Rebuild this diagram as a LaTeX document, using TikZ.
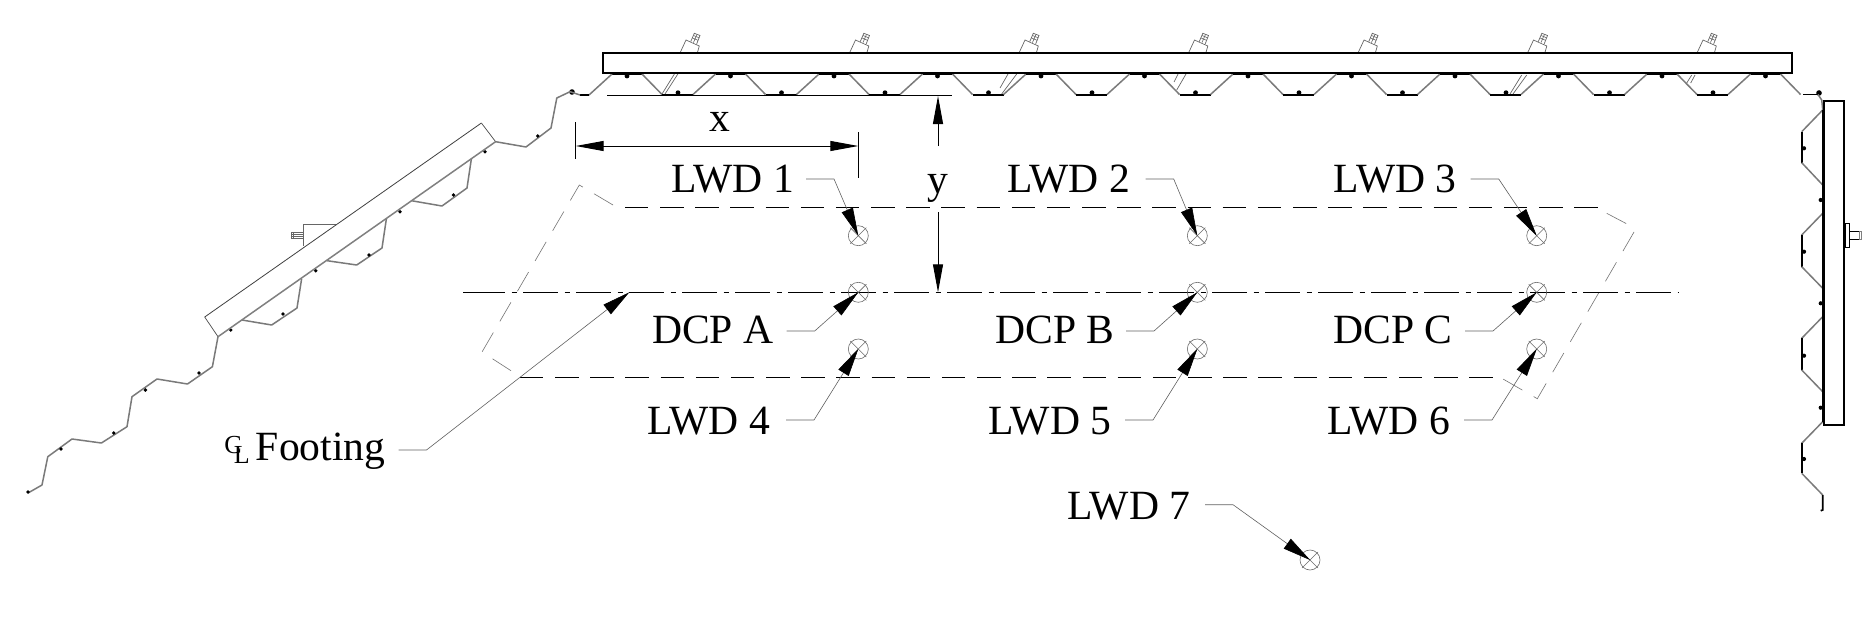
\documentclass[tikz,border=0pt]{standalone}
\usepackage{fontspec}
\setmainfont{Liberation Serif}
\usetikzlibrary{arrows.meta,calc}
\tikzset{
  lbl/.style={anchor=base west,inner sep=0pt,font=\fontsize{20.8}{24}\selectfont},
  smallcl/.style={anchor=base west,inner sep=0pt,font=\fontsize{13}{15}\selectfont},
  dimline/.style={line width=0.5pt,black},
  hood/.style={draw=black!60,line width=0.35pt,fill=white},
  sheet/.style={draw=black!52,line width=0.75pt,line join=round},
  flat/.style={draw=black,line width=0.85pt},
  boltdot/.style={fill=black,draw=none},
  panel/.style={draw=black,line width=1pt,fill=white,outer sep=0pt},
  planform/.style={draw=black!55,line width=0.3pt,dash pattern=on 11pt off 6.5pt},
  offsetline/.style={draw=black,line width=0.6pt,dash pattern=on 11.72pt off 5.86pt},
  centreline/.style={draw=black,line width=0.6pt,dash pattern=on 17.5pt off 3.25pt on 2.5pt off 3.25pt,dash phase=23pt},
  point/.style={circle,draw=black!58,line width=0.3pt,minimum size=10pt,inner sep=0pt},
  leader/.style={draw=black!62,line width=0.3pt},
  lead/.style={leader,-{Triangle[length=14pt,width=6pt,black,fill=black]}},
  bothtips/.style={dimline,{Triangle[length=14pt,width=5pt]}-{Triangle[length=14pt,width=5pt]}},
  onetip/.style={dimline,-{Triangle[length=14pt,width=5pt]}},
}
\newcommand{\testpoint}[3]{%
  \node[point] (#1) at (#2,#3) {};
  \draw[black!58,line width=0.3pt] ($(#1.center)+(-8,-8)$) -- ($(#1.center)+(8,8)$);
  \draw[black!58,line width=0.3pt] ($(#1.center)+(-8,8)$) -- ($(#1.center)+(8,-8)$);
}
\newcommand{\labelled}[7]{% name x base text startx elby tip
  \node[lbl] (#1) at (#2,#3) {#4};
  \coordinate (#1s) at (#5,#6);
  \coordinate (#1e) at (#5+28,#6);
  \draw[lead] (#1s) -- (#1e) -- (#7.center);
}
\begin{document}
\begin{tikzpicture}[x=0.5pt,y=-0.5pt]
\useasboundingbox (0,0) rectangle (1866,626);
\fill[white] (0,0) rectangle (1866,626);

% ---- top panel: fixing brackets
\foreach \k in {0,...,6}{
  \pgfmathsetmacro{\bx}{169.5*\k}
  \begin{scope}[xshift=\bx*0.5pt]
    \draw[hood] (680,53) -- (686,40) -- (699.3,46) -- (697.3,53);
    \draw[hood] (690.7,41.7) -- (694.3,33.3) -- (700,35.5) -- (696.7,43.8);
    \draw[black!60,line width=0.3pt] (692.5,38) -- (698,40.3) (693.5,35.5) -- (699,37.8) (693.4,42.6) -- (697,34.4);
  \end{scope}
}
% ---- top sheeting
\foreach \k in {0,...,11}{
  \pgfmathsetmacro{\ua}{612+103.5*\k}
  \pgfmathsetmacro{\ub}{\ua+30}
  \pgfmathsetmacro{\la}{\ua+50}
  \pgfmathsetmacro{\lb}{\ua+81}
  \pgfmathsetmacro{\un}{\ua+103.5}
  \pgfmathsetmacro{\um}{\ua+15}
  \pgfmathsetmacro{\lm}{\ua+66}
  \draw[flat] (\ua,74) -- (\ub,74);
  \draw[sheet] (\ub,74) -- (\la,94.5);
  \fill[boltdot] (\um,76) circle[radius=2.4];
  \ifnum\k<11
    \draw[flat] (\la,95) -- (\lb,95);
    \draw[sheet] (\lb,94.5) -- (\un,74);
    \fill[boltdot] (\lm,92.7) circle[radius=2.4];
  \fi
}
\draw[flat] (1803,94.5) -- (1818,94.5);
\fill[boltdot] (1819,93) circle[radius=2.8];
% leading part of the top sheeting
\draw[sheet] (589,95) -- (612,74);
\draw[flat] (580,95) -- (589,95);
\fill[boltdot] (572,92) circle[radius=2.8];
% bracket straps behind the sheeting
\foreach \a/\b/\c/\d in {675/73/662/94,678.5/73/665/94,1008/74/1000/88,1016.7/74/1001.7/94,1178/74/1174/82,1186/74/1176.7/90,1521.7/75/1510/94,1526.7/75/1513/94,1691.7/75/1686.7/83,1695/75/1690.7/83}{
  \draw[black!60,line width=0.35pt] (\a,\b) -- (\c,\d);
}
\node[panel,minimum width=594.5pt,minimum height=10pt,inner sep=0pt,anchor=north west] (toppanel) at (603,53) {};

% ---- inclined sheeting and panel
\draw[sheet] (580,95) -- (570,91.7) -- (556.8,98) -- (551,128) -- (526,147) -- (495.6,141.7);
\draw[sheet] (471.5,158) -- (467,188) -- (442,206) -- (411.4,200.7);
\draw[sheet] (386.5,218) -- (382,248) -- (356.7,265) -- (327,260.7);
\draw[sheet] (301.6,279) -- (297,308) -- (271.7,325) -- (241.9,320);
\draw[sheet] (218,336.7) -- (212.4,366.7) -- (187.5,384) -- (157,379) -- (132,396.7) -- (127,426.7) -- (101.4,443) -- (72,439) -- (47.8,456.7) -- (42,485) -- (28,493);
\foreach \x/\y in {537.7/136,485/151.7,453.5/195,400/211.7,369/255,315.7/270.7,283/314,230.8/330,199/373,145.4/390,113.7/433,61/449,28/492}{
  \fill[boltdot] (\x,\y) circle[radius=1.9];
}
\draw[hood] (336.8,224) -- (303.5,224) -- (303.5,245.7);
\draw[hood] (290.9,232) rectangle (303.5,238);
\draw[black!60,line width=0.3pt] (293,232) -- (293,238) (291,234) -- (303.5,234) (291,236) -- (303.5,236);
\fill[white] (481.4,123) -- (495.6,141.7) -- (218,336.7) -- (204.7,317) -- cycle;
\draw[black!75,line width=0.4pt] (481.4,123) -- (204.7,317);
\draw[black!70,line width=0.35pt] (481.4,123) -- (495.6,141.7);
\draw[black!70,line width=0.35pt] (204.7,317) -- (218,336.7);
\draw[black!50,line width=0.75pt] (495.6,141.7) -- (218,336.7);

% ---- vertical sheeting and panel
\draw[sheet] (1818,94.5) -- (1821.7,100) -- (1822.7,110) -- (1801.7,131.7);
\draw[flat] (1801.7,131.7) -- (1801.7,162.7);
\draw[sheet] (1801.7,162.7) -- (1822.7,185);
\draw[sheet] (1822.7,213.3) -- (1801.7,235);
\draw[flat] (1801.7,235) -- (1801.7,266.7);
\draw[sheet] (1801.7,266.7) -- (1822.7,288.3);
\draw[sheet] (1822.7,316.7) -- (1801.7,338.3);
\draw[flat] (1801.7,338.3) -- (1801.7,370);
\draw[sheet] (1801.7,370) -- (1822.7,391.7);
\draw[sheet] (1822.7,421.7) -- (1801.7,443.3);
\draw[flat] (1801.7,443.3) -- (1801.7,473.3);
\draw[sheet] (1801.7,473.3) -- (1822.7,495);
\draw[flat] (1822.7,495) -- (1822.7,510) -- (1820.7,510.7);
\draw[flat] (1822.9,110) -- (1822.9,421.7);
\foreach \x/\y in {1804/148.3,1820.7/200,1804/251.7,1820.7/303.3,1804/355.7,1820.7/407.7,1804/459}{
  \fill[boltdot] (\x,\y) circle[radius=2.1];
}
\node[panel,minimum width=10pt,minimum height=162pt,inner sep=0pt,anchor=north west] (sidepanel) at (1824,100.7) {};
\draw[black,line width=0.4pt] (1845,223.3) rectangle (1849.7,247.3);
\draw[black,line width=0.5pt] (1849.7,231.7) rectangle (1859,239.3);
\draw[black!50,line width=0.3pt] (1859,231) rectangle (1861,239);

% ---- footing outline
\draw[offsetline] (625,207.3) -- (1598,207.3);
\draw[offsetline] (520,377.3) -- (1492.7,377.3);
\draw[planform] (613,205) -- (579.3,185) -- (482,352) -- (513,372);
\draw[planform] (1606.7,213.3) -- (1627,224);
\draw[planform] (1634,232) -- (1537.3,398.7) -- (1503,379);
\draw[centreline] (463,292.3) -- (1679,292.3);
\draw[draw=black,line width=0.6pt] (463,292.3) -- (470,292.3);

% ---- test points
\testpoint{lwdA}{858.3}{235.7}
\testpoint{lwdB}{1197.3}{235.7}
\testpoint{lwdC}{1536.7}{235.7}
\testpoint{dcpA}{858.3}{292.3}
\testpoint{dcpB}{1197.3}{292.3}
\testpoint{dcpC}{1536.7}{292.3}
\testpoint{lwdD}{858.3}{349}
\testpoint{lwdE}{1197.3}{349}
\testpoint{lwdF}{1536.7}{349}
\testpoint{lwdG}{1310}{560}

% ---- labels and leaders
\labelled{la}{670.7}{192.7}{LWD 1}{806}{179}{lwdA}
\labelled{lb}{1006.7}{192.7}{LWD 2}{1145.7}{179}{lwdB}
\labelled{lc}{1333.3}{192.7}{LWD 3}{1470.7}{179}{lwdC}
\labelled{da}{651.7}{343}{DCP A}{786.7}{331}{dcpA}
\labelled{db}{995}{343}{DCP B}{1126}{331}{dcpB}
\labelled{dc}{1333}{343}{DCP C}{1465}{331}{dcpC}
\labelled{ld}{646.7}{434}{LWD 4}{786}{420}{lwdD}
\labelled{le}{988}{434}{LWD 5}{1125}{420}{lwdE}
\labelled{lf}{1326.7}{434}{LWD 6}{1464}{420}{lwdF}
\labelled{lg}{1067}{519}{LWD 7}{1205}{504.7}{lwdG}

% ---- centreline label
\node[smallcl] (clc) at (224,453) {C};
\node[smallcl] (cll) at (233.5,463) {L};
\node[lbl] (foot) at (255.5,460) {Footing};
\coordinate (foots) at (398.5,450);
\coordinate (foote) at (426.5,450);
\coordinate (footp) at (629.3,292.3);
\draw[lead] (foots) -- (foote) -- (footp);

% ---- dimensions
\coordinate (xa1) at (575.7,122);
\coordinate (xa2) at (575.7,159);
\coordinate (xb1) at (858.3,132);
\coordinate (xb2) at (858.3,178);
\coordinate (xl) at (575.7,146);
\coordinate (xr) at (858.3,146);
\draw[dimline] (xa1) -- (xa2);
\draw[dimline] (xb1) -- (xb2);
\draw[bothtips] (xl) -- (xr);
\node[lbl] (xlab) at (709.2,131) {x};
\coordinate (ya) at (607,95.5);
\coordinate (yb) at (952,95.5);
\draw[dimline] (ya) -- (yb);
\node[lbl] (ylab) at (927.5,193) {y};
\coordinate (yt1) at (938,146);
\coordinate (yt2) at (938,96);
\coordinate (yb1) at (938,212);
\coordinate (yb2) at (938,292.3);
\draw[onetip] (yt1) -- (yt2);
\draw[onetip] (yb1) -- (yb2);
\end{tikzpicture}
\end{document}
